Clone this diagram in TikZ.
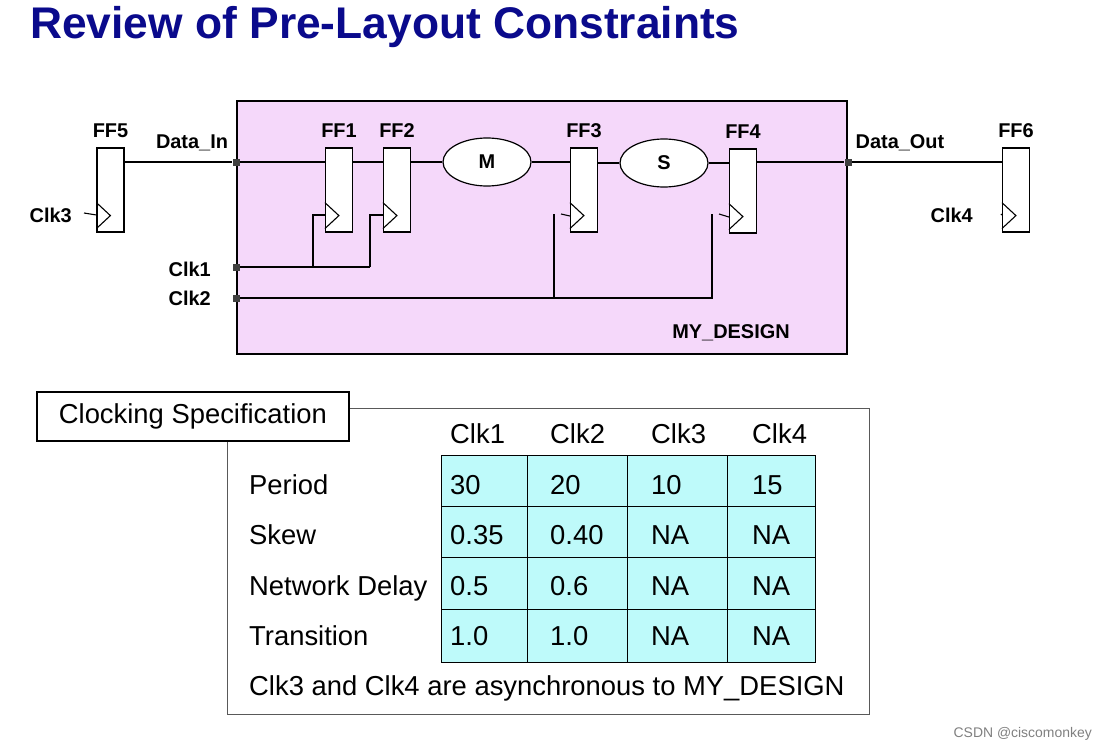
\documentclass[tikz,border=0pt]{standalone}
\usepackage{fontspec}
\setmainfont{Liberation Sans}
\definecolor{navy}{RGB}{10,10,140}
\definecolor{pinkfill}{RGB}{245,216,250}
\definecolor{cyanfill}{RGB}{190,250,250}
\tikzset{
  ff/.style={draw,line width=1.2pt,fill=white,minimum width=27bp,minimum height=84bp,inner sep=0},
  lbl/.style={font=\fontsize{20}{20}\selectfont\bfseries,inner sep=0},
  port/.style={fill=black!75,minimum size=7bp,inner sep=0},
  blob/.style={draw,line width=1.2pt,ellipse,fill=white,minimum width=88bp,minimum height=48bp,font=\fontsize{20}{20}\selectfont\bfseries},
  wire/.style={line width=1.1pt},
  tx/.style={font=\fontsize{27.5}{27.5}\selectfont,inner sep=0,anchor=base west},
}
\usetikzlibrary{shapes.geometric}
\begin{document}
\begin{tikzpicture}[x=1bp,y=-1bp]
\useasboundingbox (0,0) rectangle (1105,750);
\fill[white] (0,0) rectangle (1105,750);
\node[anchor=base west,text=navy,font=\fontsize{44.5}{44.5}\selectfont\bfseries,inner sep=0] (title) at (30,39) {Review of Pre-Layout Constraints};
% design box
\node[draw,line width=2pt,fill=pinkfill,minimum width=610bp,minimum height=253bp,anchor=north west,inner sep=0] (design) at (236,100) {};
\node[lbl,anchor=base] (dname) at (731,338) {MY\_DESIGN};
% flip flops
\node[ff] (ff5) at (110.5,190) {};
\node[ff] (ff1) at (339,190) {};
\node[ff] (ff2) at (397,190) {};
\node[ff] (ff3) at (584,190) {};
\node[ff] (ff4) at (743,191) {};
\node[ff] (ff6) at (1016,190) {};
\foreach \f/\t in {ff5/FF5,ff1/FF1,ff2/FF2,ff3/FF3,ff4/FF4,ff6/FF6}{
  \node[lbl,anchor=base] at ([yshift=10bp]\f.north) {\t};
  \draw[line width=1.1pt] ([yshift=4bp]\f.south west) -- ++(14,-13) -- ++(-14,-13);
}
\node[blob] (m) at (487,162) {M};
\node[blob] (s) at (664,163) {S};
% ports
\node[port] (pin) at (236,162) {};
\node[port] (pout) at (848,162) {};
\node[port] (pc1) at (236,267) {};
\node[port] (pc2) at (236,298) {};
\node[lbl,anchor=base] at (192,148) {Data\_In};
\node[lbl,anchor=base] at (900,148) {Data\_Out};
\node[lbl,anchor=base east] (c1) at (211,276) {Clk1};
\node[lbl,anchor=base east] (c2) at (211,305) {Clk2};
\node[lbl,anchor=base east] (c3) at (72,222) {Clk3};
\node[lbl,anchor=base east] (c4) at (973,222) {Clk4};
% data wires
\draw[wire] (ff5.east |- pin) -- (pin) -- (ff1.west |- pin);
\draw[wire] (ff1.east |- pin) -- (ff2.west |- pin);
\draw[wire] (ff2.east |- m) -- (m);
\draw[wire] (m) -- (ff3.west |- m);
\draw[wire] (ff3.east |- s) -- (s);
\draw[wire] (s) -- (ff4.west |- s);
\draw[wire] (ff4.east |- pout) -- (pout) -- (ff6.west |- pout);
% clocks
\draw[wire] (pc1) -- (370,267);
\draw[wire] (313,267) -- (313,215) -- (ff1.west |- 0,215);
\draw[wire] (370,267) -- (370,215) -- (ff2.west |- 0,215);
\draw[wire] (pc2) -- (712,298) -- (712,214);
\draw[wire] (554,298) -- (554,214);
\draw[wire] (561,214) -- (ff3.west |- 0,216);
\draw[wire] (719,214) -- (ff4.west |- 0,217);
\draw[wire] (84,213) -- (ff5.west |- 0,215);
\draw[wire] (1001,214) -- (ff6.west |- 0,215);
% spec
\draw[gray!70!black] (227,408) rectangle (869,714);
\node[draw,line width=1.8pt,fill=white,minimum width=312bp,minimum height=49bp,anchor=north west,inner sep=0,font=\fontsize{27.5}{27.5}\selectfont] (spec) at (36,391) {Clocking Specification};
\fill[cyanfill] (441,455) rectangle (815,662);
\draw (441,455) rectangle (815,662);
\foreach \x in {527,627,727} \draw (\x,455) -- (\x,662);
\foreach \y in {506,557,609} \draw (441,\y) -- (815,\y);
\foreach \t/\x in {Clk1/450,Clk2/550,Clk3/651,Clk4/752} \node[tx] at (\x,443) {\t};
\node[tx] at (249,494) {Period};
\node[tx] at (249,544) {Skew};
\node[tx] at (249,595) {Network Delay};
\node[tx] at (249,645) {Transition};
\foreach \a/\b/\c/\d/\y in {30/20/10/15/494, 0.35/0.40/NA/NA/544, 0.5/0.6/NA/NA/595, 1.0/1.0/NA/NA/645}{
  \node[tx] at (450,\y) {\a};
  \node[tx] at (550,\y) {\b};
  \node[tx] at (651,\y) {\c};
  \node[tx] at (752,\y) {\d};
}
\node[tx] (note) at (249,695) {Clk3 and Clk4 are asynchronous to MY\_DESIGN};
\node[anchor=base east,inner sep=0,text=gray,font=\fontsize{14}{14}\selectfont] (wm) at (1092,737) {CSDN @ciscomonkey};
\end{tikzpicture}
\end{document}
